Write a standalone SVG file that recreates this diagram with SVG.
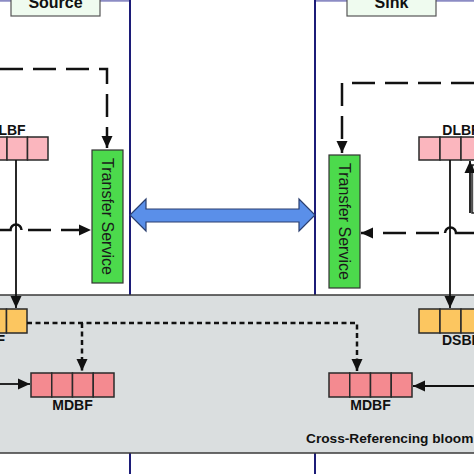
<svg xmlns="http://www.w3.org/2000/svg" width="474" height="474" viewBox="0 0 474 474">
<defs>
<style>
.lbl{font-family:"Liberation Sans",Arial,sans-serif;font-weight:bold;fill:#111;text-anchor:middle}
.cellA{fill:#fbb6be;stroke:#2a2a2a;stroke-width:1.5}
.cellM{fill:#f48a90;stroke:#2a2a2a;stroke-width:1.5}
.cellS{fill:#fcc660;stroke:#2a2a2a;stroke-width:1.5}
.green{fill:#4cda4c;stroke:#333;stroke-width:1.2}
.ts{font-family:"Liberation Sans",Arial,sans-serif;font-size:16px;fill:#1a1a1a;text-anchor:middle}
.dash{fill:none;stroke:#111;stroke-width:2.5;stroke-dasharray:23 10}
.hop{fill:none;stroke:#111;stroke-width:2.5}
.dot{fill:none;stroke:#111;stroke-width:2.5;stroke-dasharray:5 3.5}
.solid{fill:none;stroke:#111;stroke-width:1.8}
.vline{stroke:#1c1c78;stroke-width:2}
</style>
<marker id="ah" markerUnits="userSpaceOnUse" markerWidth="14" markerHeight="14" viewBox="0 0 14 14" refX="13" refY="7" orient="auto">
<path d="M1,1.5 L13,7 L1,12.5 Z" fill="#111"/>
</marker>
</defs>
<rect width="474" height="474" fill="#fff"/>

<g id="frames">
<line x1="0" y1="0.5" x2="130" y2="0.5" stroke="#8c8cc4" stroke-width="2.5"/>
<line x1="315" y1="0.5" x2="474" y2="0.5" stroke="#8c8cc4" stroke-width="2.5"/>
<line class="vline" x1="130" y1="0" x2="130" y2="474"/>
<line class="vline" x1="315" y1="0" x2="315" y2="474"/>
</g>

<g id="source-label">
<rect x="11" y="-14" width="89" height="30" fill="#effbef" stroke="#555" stroke-width="1.2"/>
<text class="lbl" x="55.5" y="8" font-size="16">Source</text>
</g>
<g id="sink-label">
<rect x="347" y="-14" width="89" height="30" fill="#effbef" stroke="#555" stroke-width="1.2"/>
<text class="lbl" x="391.5" y="8" font-size="16">Sink</text>
</g>

<g id="cross-referencing">
<rect x="-5" y="295" width="490" height="158" fill="#dadedf" stroke="#3a3a3a" stroke-width="1.5"/>
<text class="lbl" x="306" y="443" font-size="13.7" style="text-anchor:start">Cross-Referencing bloom</text>
</g>

<g id="link">
<path d="M130,215 L146,199 L146,209 L299,209 L299,199 L315,215 L299,231 L299,222 L146,222 L146,231 Z" fill="#5a8fe9" stroke="#2a3f70" stroke-width="1.2"/>
</g>

<g id="transfer-source">
<rect class="green" x="92" y="150" width="31" height="133"/>
<text class="ts" transform="translate(107.5,216.5) rotate(90)" y="5.5">Transfer Service</text>
</g>
<g id="transfer-sink">
<rect class="green" x="329" y="155" width="31" height="133"/>
<text class="ts" transform="translate(344.5,221.5) rotate(90)" y="5.5">Transfer Service</text>
</g>

<g id="dlbf-source">
<rect class="cellA" x="-34" y="137" width="20.5" height="23"/>
<rect class="cellA" x="-13.5" y="137" width="20.5" height="23"/>
<rect class="cellA" x="7" y="137" width="20.5" height="23"/>
<rect class="cellA" x="27.5" y="137" width="20.5" height="23"/>
<text class="lbl" x="7" y="135" font-size="14">DLBF</text>
</g>
<g id="dlbf-sink">
<rect class="cellA" x="419" y="137" width="21" height="23"/>
<rect class="cellA" x="440" y="137" width="21" height="23"/>
<rect class="cellA" x="461" y="137" width="21" height="23"/>
<rect class="cellA" x="482" y="137" width="21" height="23"/>
<text class="lbl" x="461" y="135" font-size="14">DLBF</text>
</g>

<g id="dsbf-source">
<rect class="cellS" x="-55" y="309" width="20.5" height="24"/>
<rect class="cellS" x="-34.5" y="309" width="20.5" height="24"/>
<rect class="cellS" x="-14" y="309" width="20.5" height="24"/>
<rect class="cellS" x="6.5" y="309" width="20.5" height="24"/>
<text class="lbl" x="-14" y="345" font-size="14">DSBF</text>
</g>
<g id="dsbf-sink">
<rect class="cellS" x="419" y="309" width="21" height="24"/>
<rect class="cellS" x="440" y="309" width="21" height="24"/>
<rect class="cellS" x="461" y="309" width="21" height="24"/>
<rect class="cellS" x="482" y="309" width="21" height="24"/>
<text class="lbl" x="461" y="345" font-size="14">DSBF</text>
</g>

<g id="mdbf-source">
<rect class="cellM" x="31" y="373" width="20.75" height="24"/>
<rect class="cellM" x="51.75" y="373" width="20.75" height="24"/>
<rect class="cellM" x="72.5" y="373" width="20.75" height="24"/>
<rect class="cellM" x="93.25" y="373" width="20.75" height="24"/>
<text class="lbl" x="72.5" y="410" font-size="14">MDBF</text>
</g>
<g id="mdbf-sink">
<rect class="cellM" x="329" y="373" width="20.75" height="24"/>
<rect class="cellM" x="349.75" y="373" width="20.75" height="24"/>
<rect class="cellM" x="370.5" y="373" width="20.75" height="24"/>
<rect class="cellM" x="391.25" y="373" width="20.75" height="24"/>
<text class="lbl" x="370.5" y="410" font-size="14">MDBF</text>
</g>

<g id="side-box">
<rect x="472" y="165" width="12" height="48" fill="#dcdcdc" stroke="#222" stroke-width="1.5"/>
</g>

<g id="connectors">
<path class="dash" d="M0,69 H107 V148" marker-end="url(#ah)"/>
<path class="dash" d="M474,83 H342 V153" marker-end="url(#ah)"/>
<path class="hop" d="M0,230 H10.5 A5.5,5.5 0 0 1 21.5,230"/>
<path class="dash" d="M28,230 H91" marker-end="url(#ah)"/>
<path class="hop" d="M474,233 H456 A5.5,5.5 0 0 0 445,233"/>
<path class="dash" d="M439,233 H361" marker-end="url(#ah)"/>
<path class="solid" d="M16,160 V308" marker-end="url(#ah)"/>
<path class="solid" d="M450,160 V308" marker-end="url(#ah)"/>
<path class="solid" d="M470,213 V161" marker-end="url(#ah)"/>
<path class="dot" d="M27,323 H357 V371" marker-end="url(#ah)"/>
<path class="dot" d="M82,323 V371" marker-end="url(#ah)"/>
<path class="solid" d="M0,384 H30" marker-end="url(#ah)"/>
<path class="solid" d="M474,386 H413" marker-end="url(#ah)"/>
</g>
</svg>
